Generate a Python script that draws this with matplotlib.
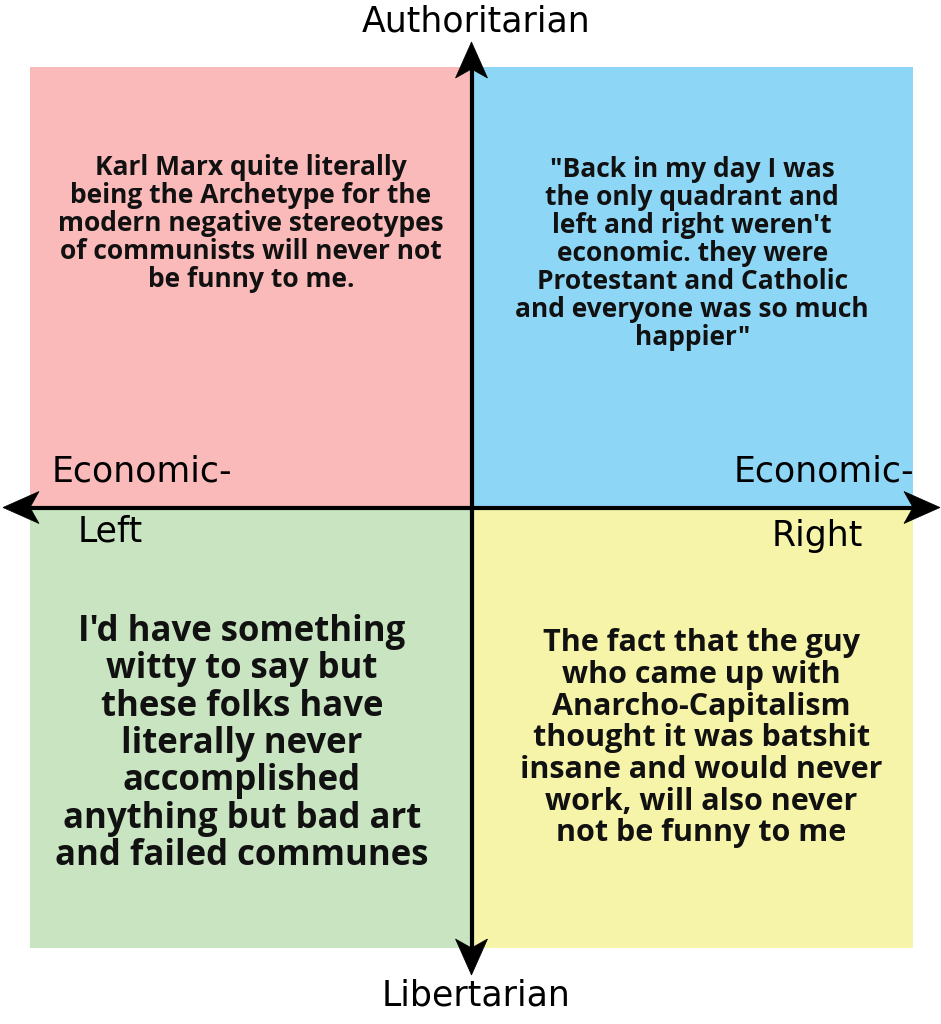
import matplotlib

matplotlib.use("Agg")
import matplotlib.pyplot as plt
from matplotlib.patches import Polygon, Rectangle

# quadrant data, in compass units (-10..10 on both axes)
quadrant_names = ["AuthLeft", "AuthRight", "LibLeft", "LibRight"]
quadrant_x = [-10, 0, -10, 0]
quadrant_y = [0, 0, -10, -10]
quadrant_colors = ["#F9BAB9", "#8ED6F6", "#C8E4C0", "#F5F4A8"]
quadrant_texts = [
    "Karl Marx quite literally\nbeing the Archetype for the\nmodern negative stereotypes\nof communists will never not\nbe funny to me.",
    "\"Back in my day I was\nthe only quadrant and\nleft and right weren't\neconomic. they were\nProtestant and Catholic\nand everyone was so much\nhappier\"",
    "I'd have something\nwitty to say but\nthese folks have\nliterally never\naccomplished\nanything but bad art\nand failed communes",
    "The fact that the guy\nwho came up with\nAnarcho-Capitalism\nthought it was batshit\ninsane and would never\nwork, will also never\nnot be funny to me",
]
# text anchor inside each quadrant (compass units) and size
text_pos = [(-5.0, 6.45), (5.0, 5.76), (-5.2, -5.37), (5.2, -5.24)]
text_sizes = [19.0, 19.0, 25.0, 22.0]
text_spacing = [1.05, 1.05, 1.05, 1.07]

axis_top = "Authoritarian"
axis_bottom = "Libertarian"
axis_left = ("Economic-", "Left")
axis_right = ("Economic-", "Right")

W, H = 941, 1024
CX, CY = 471.5, 507.5
SX, SY = 44.15, 44.05


def px(x, y):
    return (x - CX) / SX, (CY - y) / SY


fig = plt.figure(figsize=(W / 100, H / 100), dpi=100)
ax = fig.add_axes([0, 0, 1, 1])
ax.set_xlim(px(0, 0)[0], px(W, 0)[0])
ax.set_ylim(px(0, H)[1], px(0, 0)[1])
ax.axis("off")

for qx, qy, color in zip(quadrant_x, quadrant_y, quadrant_colors):
    ax.add_patch(Rectangle((qx, qy), 10, 10, facecolor=color, edgecolor="none", zorder=1))

bold = ["Open Sans", "DejaVu Sans"]
for (tx, ty), txt, size, sp in zip(text_pos, quadrant_texts, text_sizes, text_spacing):
    ax.text(tx, ty, txt, ha="center", va="center", fontsize=size, fontweight="bold",
            family=bold, linespacing=sp, color="#111111", zorder=3)

# axes lines
lw = 3
ax.plot([-10.3, 10.3], [0, 0], color="black", lw=lw, solid_capstyle="butt", zorder=4)
ax.plot([0, 0], [-10.3, 10.3], color="black", lw=lw, solid_capstyle="butt", zorder=4)


def head(tip, direction):
    # concave arrowhead in pixel space
    tx, ty = tip
    dx, dy = direction
    L, Wd, notch = 36, 16, 9
    nx, ny = -dy, dx
    pts = [
        (tx, ty),
        (tx - dx * L + nx * Wd, ty - dy * L + ny * Wd),
        (tx - dx * (L - notch), ty - dy * (L - notch)),
        (tx - dx * L - nx * Wd, ty - dy * L - ny * Wd),
    ]
    ax.add_patch(Polygon([px(x, y) for x, y in pts], closed=True,
                         facecolor="black", edgecolor="black", lw=0.5, zorder=5))


head((471.5, 42), (0, -1))
head((471.5, 975), (0, 1))
head((3, 507.5), (-1, 0))
head((940, 507.5), (1, 0))

lab = dict(fontsize=25, family=["DejaVu Sans"], color="black", zorder=6)
ax.text(*px(476, 22), axis_top, ha="center", va="center", **lab)
ax.text(*px(476, 995), axis_bottom, ha="center", va="center", **lab)
ax.text(*px(52, 472), axis_left[0], ha="left", va="center", **lab)
ax.text(*px(78, 532), axis_left[1], ha="left", va="center", **lab)
ax.text(*px(914, 472), axis_right[0], ha="right", va="center", **lab)
ax.text(*px(772, 536), axis_right[1], ha="left", va="center", **lab)

fig.savefig("out.png", dpi=100, facecolor="white")
plt.close(fig)
